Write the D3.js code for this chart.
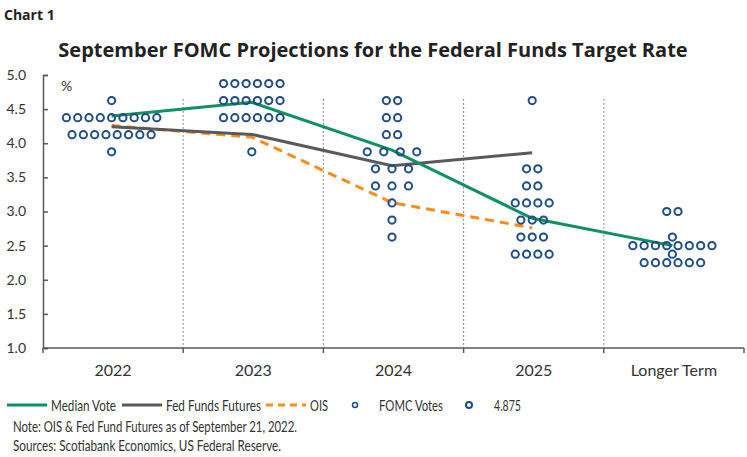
<!DOCTYPE html>
<html>
<head>
<meta charset="utf-8">
<script src="https://cdn.jsdelivr.net/npm/d3@7"></script>
<style>
  body { margin: 0; background: #fff; }
  svg text { font-family: Lato, "Noto Sans", sans-serif; fill: #222; }
</style>
</head>
<body>
<div id="chart"></div>
<script>
// chart data
const categories = ["2022", "2023", "2024", "2025", "Longer Term"];
const medianVote = [4.4, 4.6, 3.9, 2.9, 2.5];
const fedFundsFutures = [4.24, 4.13, 3.67, 3.86];
const ois = [4.26, 4.09, 3.13, 2.76];
const yTicks = [1.0, 1.5, 2.0, 2.5, 3.0, 3.5, 4.0, 4.5, 5.0];

// FOMC dot plot: rows of votes per category (rate, number of participants)
const votes2022 = [[4.625, 1], [4.375, 9], [4.125, 8], [3.875, 1]];
const votes2023 = [[4.875, 6], [4.625, 6], [4.375, 6], [3.875, 1]];
const votes2024 = [[4.625, 2], [4.375, 2], [4.125, 2], [3.875, 4], [3.625, 3], [3.375, 3], [3.125, 1], [2.875, 1], [2.625, 1]];
const votes2025 = [[4.625, 1], [3.625, 2], [3.375, 2], [3.125, 4], [2.875, 3], [2.625, 3], [2.375, 4]];
const votesLonger = [[3.0, 2], [2.625, 1], [2.5, 8], [2.375, 1], [2.25, 6]];
const allVotes = [votes2022, votes2023, votes2024, votes2025, votesLonger];

document.addEventListener("DOMContentLoaded", function () {
  const width = 747;
  const height = 457;
  const margin = { top: 75, right: 3, bottom: 109, left: 43 };
  const innerWidth = width - margin.left - margin.right;
  const innerHeight = height - margin.top - margin.bottom;

  const green = "#0f9160";
  const grey = "#5a5a5a";
  const orange = "#ff8c1a";
  const blue = "#1f4d87";

  const svg = d3.select("#chart")
    .append("svg")
    .attr("width", width)
    .attr("height", height);

  svg.append("text")
    .attr("x", 4).attr("y", 20)
    .style("font-family", "'Open Sans', sans-serif")
    .style("font-size", "14px").style("font-weight", "bold")
    .text("Chart 1");

  svg.append("text")
    .attr("x", 373).attr("y", 57)
    .attr("text-anchor", "middle")
    .style("font-family", "'Open Sans', sans-serif")
    .style("font-size", "20px").style("font-weight", "bold")
    .text("September FOMC Projections for the Federal Funds Target Rate");

  const g = svg.append("g")
    .attr("transform", `translate(${margin.left},${margin.top})`);

  const xScale = d3.scaleBand()
    .domain(categories)
    .range([0, innerWidth]);

  const yScale = d3.scaleLinear()
    .domain([1, 5])
    .range([innerHeight, 0]);

  const cx = (i) => xScale(categories[i]) + xScale.bandwidth() / 2;

  // dotted separators between categories
  categories.slice(1).forEach((c) => {
    g.append("line")
      .attr("x1", xScale(c)).attr("x2", xScale(c))
      .attr("y1", yScale(4.65)).attr("y2", innerHeight)
      .attr("stroke", "#8a8a8a")
      .attr("stroke-width", 1)
      .attr("stroke-dasharray", "2,2");
  });

  // y axis, ticks pointing inside
  const yAxis = g.append("g")
    .call(d3.axisRight(yScale).tickValues(yTicks).tickSize(5).tickFormat(d3.format(".1f")));
  yAxis.select(".domain").attr("stroke", grey).attr("stroke-width", 1.5);
  yAxis.selectAll(".tick line").attr("stroke", grey).attr("stroke-width", 1.5);
  yAxis.selectAll(".tick text")
    .attr("x", -17).attr("text-anchor", "end")
    .style("font-size", "14px").style("fill", "#333")
    .style("font-family", "Lato, sans-serif");

  // x axis with tick marks at band edges
  const xAxisG = g.append("g").attr("transform", `translate(0,${innerHeight})`);
  xAxisG.append("line")
    .attr("x1", 0).attr("x2", innerWidth)
    .attr("stroke", grey).attr("stroke-width", 1.5);
  categories.forEach((c, i) => {
    const edges = i === 0 ? [xScale(c), xScale(c) + xScale.bandwidth()] : [xScale(c) + xScale.bandwidth()];
    edges.forEach((e) => {
      xAxisG.append("line")
        .attr("x1", e).attr("x2", e).attr("y1", 0).attr("y2", 5)
        .attr("stroke", grey).attr("stroke-width", 1.5);
    });
    xAxisG.append("text")
      .attr("x", cx(i)).attr("y", 28)
      .attr("text-anchor", "middle")
      .style("font-size", "16px").style("fill", "#333")
      .text(c);
  });

  g.append("text")
    .attr("x", 18).attr("y", 16)
    .style("font-size", "14px").style("fill", "#333")
    .text("%");

  // FOMC vote dots
  const dots = [];
  allVotes.forEach((rows, i) => {
    rows.forEach(([rate, n]) => {
      const step = (i === 2 && n > 2) ? 16.5 : 11.3;
      for (let k = 0; k < n; k++) {
        dots.push({ x: cx(i) - 1.5 + (k - (n - 1) / 2) * step, rate: rate });
      }
    });
  });

  // lines
  const line = d3.line()
    .x((d, i) => cx(i) - 1.5)
    .y((d) => yScale(d));

  g.append("path")
    .datum(ois)
    .attr("fill", "none")
    .attr("stroke", orange)
    .attr("stroke-width", 3)
    .attr("stroke-dasharray", "9,6")
    .attr("d", line);

  g.append("path")
    .datum(fedFundsFutures)
    .attr("fill", "none")
    .attr("stroke", grey)
    .attr("stroke-width", 3)
    .attr("d", line);

  g.append("path")
    .datum(medianVote)
    .attr("fill", "none")
    .attr("stroke", green)
    .attr("stroke-width", 3)
    .attr("d", line);

  g.selectAll(".vote")
    .data(dots)
    .enter()
    .append("circle")
    .attr("class", "vote")
    .attr("cx", (d) => d.x)
    .attr("cy", (d) => yScale(d.rate))
    .attr("r", 3.6)
    .attr("fill", "none")
    .attr("stroke", blue)
    .attr("stroke-width", 2);

  // narrow text: the original face is condensed, so squeeze Lato to its width
  const narrowText = (x, y, label, len) => svg.append("text")
    .attr("x", x).attr("y", y)
    .attr("textLength", len)
    .attr("lengthAdjust", "spacingAndGlyphs")
    .style("font-size", "16px").style("fill", "#333")
    .text(label);

  // legend
  const ly = 405;
  const legendLine = (x, color, dash, label, len) => {
    svg.append("line")
      .attr("x1", x).attr("x2", x + 40).attr("y1", ly).attr("y2", ly)
      .attr("stroke", color).attr("stroke-width", 3)
      .attr("stroke-dasharray", dash);
    narrowText(x + 44, ly + 6, label, len);
  };
  legendLine(7, green, null, "Median Vote", 65);
  legendLine(122, grey, null, "Fed Funds Futures", 95);
  legendLine(266, orange, "7,5", "OIS", 18);

  const legendDot = (x, r, sw, label, tx, len) => {
    svg.append("circle")
      .attr("cx", x).attr("cy", ly)
      .attr("r", r).attr("fill", "none")
      .attr("stroke", blue).attr("stroke-width", sw);
    narrowText(tx, ly + 6, label, len);
  };
  legendDot(355, 2.5, 1.5, "FOMC Votes", 379, 64);
  legendDot(469, 3, 2, "4.875", 494, 27);

  narrowText(13, 432, "Note: OIS & Fed Fund Futures as of September 21, 2022.", 284);
  narrowText(13, 451, "Sources: Scotiabank Economics, US Federal Reserve.", 268);
});
</script>
</body>
</html>
